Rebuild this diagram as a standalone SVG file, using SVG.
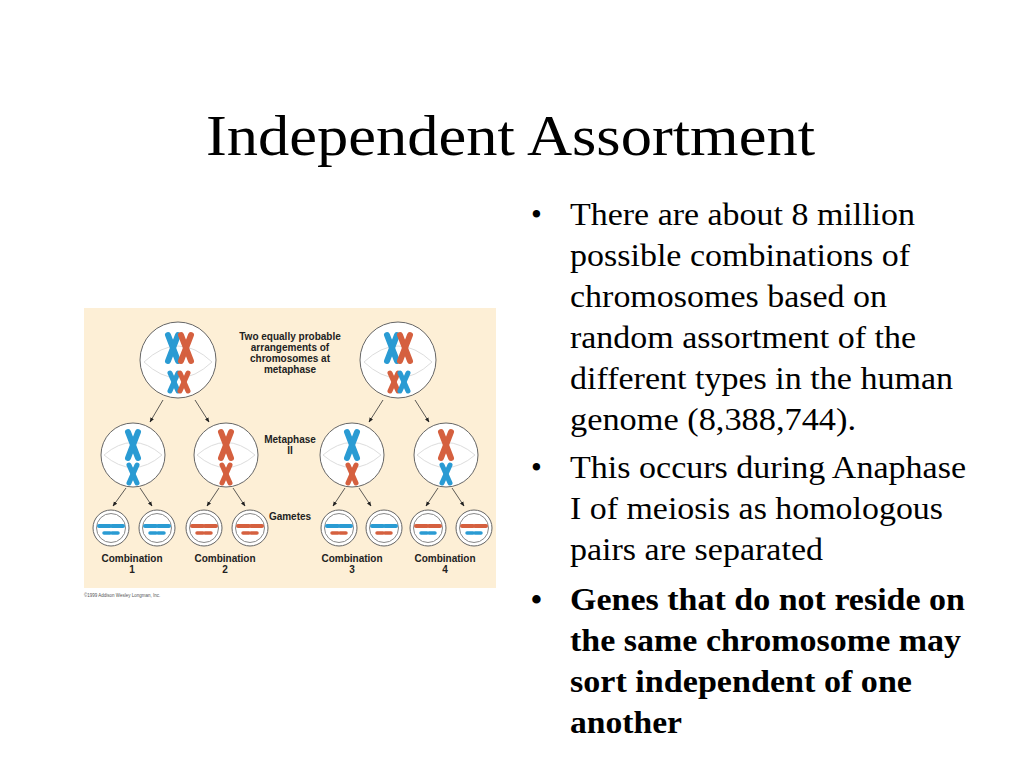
<svg xmlns="http://www.w3.org/2000/svg" width="1024" height="768" viewBox="0 0 1024 768">
<style>
.t{font-family:"Liberation Serif",serif;fill:#000}
.b{font-size:31px}
.s{font-family:"Liberation Sans",Arial,sans-serif;font-weight:bold;font-size:10px;fill:#222;text-anchor:middle}
.c{fill:#fff;stroke:#666;stroke-width:1}
.sp{fill:none;stroke:#ddd;stroke-width:1}
.bl{stroke:#2a9bd3;stroke-linecap:round;fill:none}
.rd{stroke:#d5603f;stroke-linecap:round;fill:none}
.ar{stroke:#333;stroke-width:0.8;fill:none;marker-end:url(#a)}
</style>
<defs>
<marker id="a" viewBox="0 0 10 10" refX="9" refY="5" markerWidth="6" markerHeight="6" orient="auto"><path d="M0,1 L10,5 L0,9z" fill="#222"/></marker>
<g id="xb"><line x1="-5" y1="-13" x2="5" y2="13" stroke-width="6"/><line x1="5" y1="-13" x2="-5" y2="13" stroke-width="6"/></g>
<g id="xs"><line x1="-4" y1="-9" x2="4" y2="9" stroke-width="5"/><line x1="4" y1="-9" x2="-4" y2="9" stroke-width="5"/></g>
</defs>
<rect width="1024" height="768" fill="#fff"/>
<text class="t" x="206" y="155" font-size="58" textLength="609" lengthAdjust="spacingAndGlyphs">Independent Assortment</text>
<g id="bullets" class="t b">
<text x="531" y="225">•</text>
<text x="570" y="225" textLength="345" lengthAdjust="spacingAndGlyphs">There are about 8 million</text>
<text x="570" y="266" textLength="340" lengthAdjust="spacingAndGlyphs">possible combinations of</text>
<text x="570" y="307" textLength="317" lengthAdjust="spacingAndGlyphs">chromosomes based on</text>
<text x="570" y="348" textLength="346" lengthAdjust="spacingAndGlyphs">random assortment of the</text>
<text x="570" y="389" textLength="383" lengthAdjust="spacingAndGlyphs">different types in the human</text>
<text x="570" y="430" textLength="286" lengthAdjust="spacingAndGlyphs">genome (8,388,744).</text>
<text x="531" y="478">•</text>
<text x="570" y="478" textLength="396" lengthAdjust="spacingAndGlyphs">This occurs during Anaphase</text>
<text x="570" y="519" textLength="373" lengthAdjust="spacingAndGlyphs">I of meiosis as homologous</text>
<text x="570" y="560" textLength="253" lengthAdjust="spacingAndGlyphs">pairs are separated</text>
<g font-weight="bold">
<text x="531" y="610">•</text>
<text x="570" y="610" textLength="395" lengthAdjust="spacingAndGlyphs">Genes that do not reside on</text>
<text x="570" y="651" textLength="391" lengthAdjust="spacingAndGlyphs">the same chromosome may</text>
<text x="570" y="692" textLength="342" lengthAdjust="spacingAndGlyphs">sort independent of one</text>
<text x="570" y="733" textLength="112" lengthAdjust="spacingAndGlyphs">another</text>
</g>
</g>
<rect x="84" y="308" width="412" height="280" fill="#fdefd6"/>
<g id="labels">
<text class="s" x="290" y="340">Two equally probable</text>
<text class="s" x="290" y="351">arrangements of</text>
<text class="s" x="290" y="362">chromosomes at</text>
<text class="s" x="290" y="373">metaphase</text>
<text class="s" x="290" y="443">Metaphase</text>
<text class="s" x="290" y="454">II</text>
<text class="s" x="290" y="520">Gametes</text>
<text class="s" x="132" y="562">Combination</text><text class="s" x="132" y="573">1</text>
<text class="s" x="225" y="562">Combination</text><text class="s" x="225" y="573">2</text>
<text class="s" x="352" y="562">Combination</text><text class="s" x="352" y="573">3</text>
<text class="s" x="445" y="562">Combination</text><text class="s" x="445" y="573">4</text>
<text x="84" y="597" font-family="Liberation Sans,sans-serif" font-size="4.5" fill="#555">©1999 Addison Wesley Longman, Inc.</text>
</g>
<g id="connectors">
<line class="ar" x1="163" y1="400" x2="150" y2="422"/>
<line class="ar" x1="195" y1="400" x2="209" y2="422"/>
<line class="ar" x1="383" y1="400" x2="369" y2="422"/>
<line class="ar" x1="415" y1="400" x2="429" y2="422"/>
<g id="ga">
<line class="ar" x1="126" y1="488" x2="113" y2="506"/><line class="ar" x1="140" y1="488" x2="152" y2="506"/>
<line class="ar" x1="219" y1="488" x2="207" y2="506"/><line class="ar" x1="233" y1="488" x2="245" y2="506"/>
<line class="ar" x1="345" y1="488" x2="333" y2="506"/><line class="ar" x1="359" y1="488" x2="371" y2="506"/>
<line class="ar" x1="438" y1="488" x2="426" y2="506"/><line class="ar" x1="452" y1="488" x2="464" y2="506"/>
</g>
</g>
<g id="top1">
<circle class="c" cx="178" cy="360" r="38"/>
<path class="sp" d="M144,362 Q178,330 212,362 Q178,394 144,362"/>
<use href="#xb" class="bl" x="173" y="348"/><use href="#xb" class="rd" x="186" y="348"/>
<use href="#xs" class="bl" x="174" y="382"/><use href="#xs" class="rd" x="184" y="382"/>
</g>
<g id="top2">
<circle class="c" cx="398" cy="360" r="38"/>
<path class="sp" d="M364,362 Q398,330 432,362 Q398,394 364,362"/>
<use href="#xb" class="bl" x="392" y="348"/><use href="#xb" class="rd" x="405" y="348"/>
<use href="#xs" class="rd" x="394" y="382"/><use href="#xs" class="bl" x="404" y="382"/>
</g>
<g id="mid">
<circle class="c" cx="133" cy="455" r="32"/><path class="sp" d="M104,455 Q133,430 162,455 Q133,480 104,455"/>
<use href="#xb" class="bl" x="133" y="445"/><use href="#xs" class="bl" x="133" y="474"/>
<circle class="c" cx="226" cy="455" r="32"/><path class="sp" d="M197,455 Q226,430 255,455 Q226,480 197,455"/>
<use href="#xb" class="rd" x="226" y="445"/><use href="#xs" class="rd" x="226" y="474"/>
<circle class="c" cx="352" cy="455" r="32"/><path class="sp" d="M323,455 Q352,430 381,455 Q352,480 323,455"/>
<use href="#xb" class="bl" x="352" y="445"/><use href="#xs" class="rd" x="352" y="474"/>
<circle class="c" cx="446" cy="455" r="32"/><path class="sp" d="M417,455 Q446,430 475,455 Q446,480 417,455"/>
<use href="#xb" class="rd" x="446" y="445"/><use href="#xs" class="bl" x="446" y="474"/>
</g>
<defs>
<g id="gb"><circle r="18" fill="#fff" stroke="#666"/><circle r="14.5" fill="none" stroke="#888"/></g>
<g id="gtb"><line x1="-12" y1="-2" x2="-1" y2="-2" stroke-width="4"/><line x1="1" y1="-2" x2="12" y2="-2" stroke-width="4"/></g>
<g id="gsb"><line x1="-7" y1="5" x2="-1" y2="5" stroke-width="3.5"/><line x1="1" y1="5" x2="7" y2="5" stroke-width="3.5"/></g>
</defs>
<g id="gametes">
<use href="#gb" x="111" y="528"/><use href="#gtb" class="bl" x="111" y="528"/><use href="#gsb" class="bl" x="111" y="528"/>
<use href="#gb" x="157" y="528"/><use href="#gtb" class="bl" x="157" y="528"/><use href="#gsb" class="bl" x="157" y="528"/>
<use href="#gb" x="204" y="528"/><use href="#gtb" class="rd" x="204" y="528"/><use href="#gsb" class="rd" x="204" y="528"/>
<use href="#gb" x="250" y="528"/><use href="#gtb" class="rd" x="250" y="528"/><use href="#gsb" class="rd" x="250" y="528"/>
<use href="#gb" x="339" y="528"/><use href="#gtb" class="bl" x="339" y="528"/><use href="#gsb" class="rd" x="339" y="528"/>
<use href="#gb" x="384" y="528"/><use href="#gtb" class="bl" x="384" y="528"/><use href="#gsb" class="rd" x="384" y="528"/>
<use href="#gb" x="428" y="528"/><use href="#gtb" class="rd" x="428" y="528"/><use href="#gsb" class="bl" x="428" y="528"/>
<use href="#gb" x="474" y="528"/><use href="#gtb" class="rd" x="474" y="528"/><use href="#gsb" class="bl" x="474" y="528"/>
</g>
</svg>
